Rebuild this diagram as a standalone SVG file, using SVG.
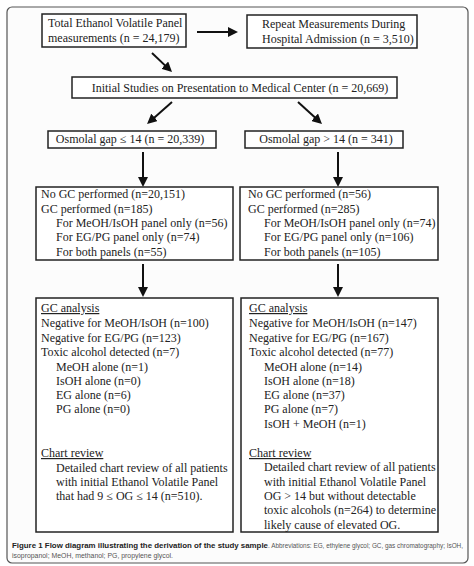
<svg xmlns="http://www.w3.org/2000/svg" width="474" height="566" viewBox="0 0 474 566">
<defs>
<style>
.box{fill:#fff;stroke:#222;stroke-width:1.5}
.t{font-family:"Liberation Serif","Times New Roman",serif;font-size:12px;fill:#222}
.u{text-decoration:underline}
.c{font-family:"Liberation Sans","Noto Sans",sans-serif;font-size:6.4px}
.cb{font-weight:bold;fill:#222}
.cr{fill:#555}
.ar{stroke:#111;stroke-width:2;fill:none;marker-end:url(#ah)}
</style>
<marker id="ah" viewBox="0 0 10 10" refX="5" refY="5" markerWidth="10" markerHeight="10" markerUnits="userSpaceOnUse" orient="auto">
<path d="M0,0 L10,5 L0,10 z" fill="#111"/>
</marker>
</defs>
<rect x="0" y="0" width="474" height="566" fill="#fff"/>
<rect x="7" y="7" width="461" height="556" rx="5" fill="#fcfcfc" stroke="#555" stroke-width="1.2"/>

<g id="connectors">
<line class="ar" x1="197" y1="32" x2="233" y2="32"/>
<line class="ar" x1="152" y1="53" x2="168.4" y2="68.6"/>
<line class="ar" x1="172" y1="102" x2="150.8" y2="120.7"/>
<line class="ar" x1="298" y1="102" x2="318.3" y2="120.6"/>
<line class="ar" x1="143" y1="152" x2="143" y2="182"/>
<line class="ar" x1="338" y1="152" x2="338" y2="182"/>
<line class="ar" x1="143" y1="264" x2="143" y2="292"/>
<line class="ar" x1="338" y1="264" x2="338" y2="292"/>
</g>

<g id="total">
<rect class="box" x="42" y="14" width="144" height="33"/>
<text class="t" x="48" y="27">Total Ethanol Volatile Panel</text>
<text class="t" x="48" y="42">measurements (n = 24,179)</text>
</g>

<g id="repeat">
<rect class="box" x="247" y="15" width="170" height="33"/>
<text class="t" x="262" y="28">Repeat Measurements During</text>
<text class="t" x="262" y="43">Hospital Admission  (n = 3,510)</text>
</g>

<g id="initial">
<rect class="box" x="72" y="77" width="325" height="21"/>
<text class="t" x="240" y="92" text-anchor="middle">Initial Studies on Presentation to Medical Center (n = 20,669)</text>
</g>

<g id="og-low">
<rect class="box" x="48" y="131" width="168" height="17"/>
<text class="t" x="130" y="143" text-anchor="middle">Osmolal gap ≤ 14 (n = 20,339)</text>
</g>

<g id="og-high">
<rect class="box" x="245" y="131" width="158" height="17"/>
<text class="t" x="326" y="143" text-anchor="middle">Osmolal gap &gt; 14 (n = 341)</text>
</g>

<g id="gc-low">
<rect class="box" x="36" y="187" width="197" height="73"/>
<text class="t" x="41" y="198">No GC performed (n=20,151)</text>
<text class="t" x="41" y="213">GC performed (n=185)</text>
<text class="t" x="56" y="227">For MeOH/IsOH panel only (n=56)</text>
<text class="t" x="56" y="241">For EG/PG panel only (n=74)</text>
<text class="t" x="56" y="256">For both panels (n=55)</text>
</g>

<g id="gc-high">
<rect class="box" x="240" y="187" width="198" height="73"/>
<text class="t" x="248" y="198">No GC performed (n=56)</text>
<text class="t" x="248" y="213">GC performed (n=285)</text>
<text class="t" x="264" y="227">For MeOH/IsOH panel only (n=74)</text>
<text class="t" x="264" y="241">For EG/PG panel only (n=106)</text>
<text class="t" x="264" y="256">For both panels (n=105)</text>
</g>

<g id="analysis-low">
<rect class="box" x="36" y="298" width="197" height="234"/>
<text class="t u" x="41" y="312">GC analysis</text>
<text class="t" x="41" y="327">Negative for MeOH/IsOH (n=100)</text>
<text class="t" x="41" y="342">Negative for EG/PG (n=123)</text>
<text class="t" x="41" y="356">Toxic alcohol detected (n=7)</text>
<text class="t" x="56" y="371">MeOH alone (n=1)</text>
<text class="t" x="56" y="385">IsOH alone (n=0)</text>
<text class="t" x="56" y="399">EG alone (n=6)</text>
<text class="t" x="56" y="413">PG alone (n=0)</text>
<text class="t u" x="41" y="457">Chart review</text>
<text class="t" x="56" y="472">Detailed chart review of all patients</text>
<text class="t" x="56" y="486">with initial Ethanol Volatile Panel</text>
<text class="t" x="56" y="500">that had 9 ≤ OG ≤ 14 (n=510).</text>
</g>

<g id="analysis-high">
<rect class="box" x="241" y="298" width="197" height="234"/>
<text class="t u" x="249" y="312">GC analysis</text>
<text class="t" x="249" y="327">Negative for MeOH/IsOH (n=147)</text>
<text class="t" x="249" y="342">Negative for EG/PG (n=167)</text>
<text class="t" x="249" y="356">Toxic alcohol detected (n=77)</text>
<text class="t" x="264" y="371">MeOH alone (n=14)</text>
<text class="t" x="264" y="385">IsOH alone (n=18)</text>
<text class="t" x="264" y="399">EG alone (n=37)</text>
<text class="t" x="264" y="413">PG alone (n=7)</text>
<text class="t" x="264" y="428">IsOH + MeOH (n=1)</text>
<text class="t u" x="249" y="457">Chart review</text>
<text class="t" x="264" y="471">Detailed chart review of all patients</text>
<text class="t" x="264" y="486">with initial Ethanol Volatile Panel</text>
<text class="t" x="264" y="500">OG &gt; 14 but without detectable</text>
<text class="t" x="264" y="514">toxic alcohols (n=264) to determine</text>
<text class="t" x="264" y="529">likely cause of elevated OG.</text>
</g>

<g id="caption">
<text class="c cb" x="12" y="548" textLength="256" lengthAdjust="spacingAndGlyphs">Figure 1 Flow diagram illustrating the derivation of the study sample</text>
<text class="c cr" x="268" y="548" textLength="195" lengthAdjust="spacingAndGlyphs">. Abbreviations: EG, ethylene glycol; GC, gas chromatography; IsOH,</text>
<text class="c cr" x="12" y="558" textLength="161" lengthAdjust="spacingAndGlyphs">isopropanol; MeOH, methanol; PG, propylene glycol.</text>
</g>
</svg>
